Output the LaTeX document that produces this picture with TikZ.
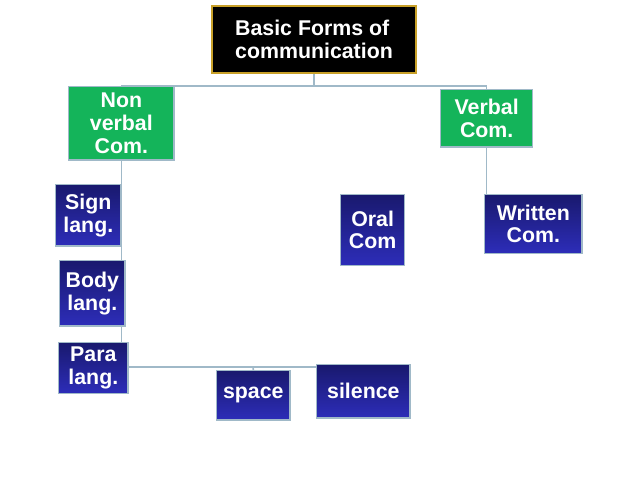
\documentclass[tikz,border=0pt]{standalone}
\usepackage{fontspec}
\setmainfont{Liberation Sans}
\usetikzlibrary{backgrounds}
\definecolor{linkc}{RGB}{160,185,200}
\definecolor{greenc}{RGB}{20,180,90}
\definecolor{navytop}{RGB}{25,25,110}
\definecolor{navybot}{RGB}{45,45,185}
\tikzset{
  box/.style={draw=linkc, line width=1pt, text=white, font=\bfseries\fontsize{16}{17}\selectfont,
    align=center, inner sep=1pt},
  greenbox/.style={box, fill=greenc},
  bluebox/.style={box, top color=navytop, bottom color=navybot},
  link/.style={draw=linkc, line width=1.2pt},
}
\begin{document}
\begin{tikzpicture}[x=0.75pt,y=-0.75pt]
\useasboundingbox (0,0) rectangle (638,479);
% boxes, corners in pixels
\node[box, fill=black, draw={rgb,255:red,200;green,160;blue,40}, line width=1.5pt, align=left,
  minimum width=153pt, minimum height=50pt, anchor=north west] (basic) at (211,5)
  {Basic Forms of\\communication};
\node[greenbox, minimum width=79pt, minimum height=55pt, anchor=north west] (nonverbal) at (68,86) {Non\\verbal\\Com.};
\node[greenbox, minimum width=69pt, minimum height=43pt, anchor=north west] (verbal) at (440,89) {Verbal\\Com.};
\node[bluebox, minimum width=49pt, minimum height=46pt, anchor=north west] (sign) at (55,184) {Sign\\lang.};
\node[bluebox, minimum width=49pt, minimum height=49pt, anchor=north west] (body) at (59,260) {Body\\lang.};
\node[bluebox, minimum width=52pt, minimum height=38pt, anchor=north west] (para) at (58,342) {Para\\lang.};
\node[bluebox, minimum width=48pt, minimum height=53pt, anchor=north west] (oral) at (340,194) {Oral\\Com};
\node[bluebox, minimum width=73pt, minimum height=44pt, anchor=north west] (written) at (484,194) {Written\\Com.};
\node[bluebox, minimum width=55pt, minimum height=37pt, anchor=north west] (space) at (216,370) {space};
\node[bluebox, minimum width=70pt, minimum height=40pt, anchor=north west] (silence) at (316,364) {silence};
% connectors
\begin{scope}[on background layer]
\fill[white] (0,0) rectangle (638,479);
\draw[link] (basic.south) -- (basic.south |- nonverbal.north);
\draw[link] (nonverbal.north) -- (nonverbal.north -| verbal.north) -- (verbal.north);
\draw[link] (nonverbal.south) -- (para.north -| nonverbal.south);
\draw[link] (verbal.south) -- (written.north -| verbal.south);
\coordinate (paraline) at (253,367);
\draw[link] (para.east |- paraline) -- (silence.west |- paraline);
\draw[link] (paraline) -- (space.north);
\end{scope}
\end{tikzpicture}
\end{document}
